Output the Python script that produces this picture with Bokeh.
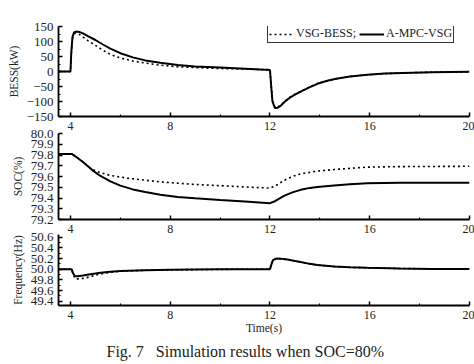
from bokeh.plotting import figure
from bokeh.models import FixedTicker, Legend, LegendItem, Range1d, PrintfTickFormatter
from bokeh.layouts import column
from bokeh.embed import file_html
from bokeh.resources import INLINE

# ---------------- data ----------------
x_ticks = [4, 8, 12, 16, 20]
x_minor = [6, 10, 14, 18]

# BESS power (kW)
bess_t_mpc = [3.52, 4.0, 4.03, 4.08, 4.14, 4.22, 4.35, 4.5, 4.7, 5.0, 5.3, 5.6, 6.0, 6.5, 7.0, 7.6, 8.3, 9.0, 10.0, 11.0, 12.0,
              12.04, 12.1, 12.2, 12.3, 12.45, 12.6, 12.8, 13.0, 13.25, 13.6, 13.9, 14.3, 14.6, 15.2, 15.9, 16.6, 17.3, 18.5, 20.0]
bess_mpc = [0, 0, 60, 115, 130, 133, 132, 127, 118, 105, 90, 76, 61, 47, 37, 29, 22, 17, 13, 9, 5,
            -40, -100, -122, -121, -113, -100, -87, -77, -66, -52, -41, -31, -25, -17, -11, -7, -5, -2.5, -1]
bess_t_vsg = [3.52, 4.0, 4.03, 4.08, 4.14, 4.2, 4.35, 4.5, 4.7, 5.0, 5.3, 5.6, 6.0, 6.5, 7.0, 7.6, 8.3, 9.0, 10.0, 11.0, 12.0,
              12.04, 12.1, 12.2, 12.3, 12.45, 12.6, 12.8, 13.0, 13.25, 13.6, 13.9, 14.3, 14.6, 15.2, 15.9, 16.6, 17.3, 18.5, 20.0]
bess_vsg = [0, 0, 55, 110, 125, 128, 124, 115, 103, 87, 71, 57, 45, 35, 28, 21, 16, 13, 10, 8, 6,
            -40, -98, -120, -119, -111, -99, -86, -76, -65, -51, -40, -31, -25, -17, -11, -7, -5, -2.5, -1]
bess_ticks = [-150, -100, -50, 0, 50, 100, 150]
bess_minor = [-125, -75, -25, 25, 75, 125]
bess_tick_labels = ["\u2212150", "\u2212100", "\u221250", "0", "50", "100", "150"]

# SOC (%)
soc_t_mpc = [3.52, 4.05, 4.15, 4.3, 4.5, 4.7, 4.9, 5.2, 5.6, 6.0, 6.5, 7.0, 7.6, 8.3, 9.0, 10.0, 11.0, 12.0,
             12.2, 12.56, 12.9, 13.23, 13.6, 13.9, 14.57, 15.2, 15.9, 17.2, 18.5, 20.0]
soc_mpc = [79.81, 79.81, 79.795, 79.77, 79.735, 79.695, 79.655, 79.605, 79.555, 79.515, 79.48, 79.455, 79.43, 79.41, 79.397, 79.382, 79.368, 79.352,
           79.37, 79.42, 79.452, 79.476, 79.494, 79.503, 79.516, 79.528, 79.537, 79.543, 79.543, 79.542]
soc_t_vsg = [3.52, 4.05, 4.15, 4.3, 4.5, 4.7, 4.85, 5.2, 5.6, 6.27, 7.6, 8.94, 10.8, 12.0,
             12.2, 12.56, 12.9, 13.23, 13.9, 14.57, 15.9, 17.2, 20.0]
soc_vsg = [79.81, 79.81, 79.795, 79.77, 79.735, 79.695, 79.668, 79.635, 79.61, 79.585, 79.55, 79.527, 79.505, 79.492,
           79.51, 79.563, 79.60, 79.625, 79.65, 79.665, 79.687, 79.692, 79.695]
soc_ticks = [79.2, 79.3, 79.4, 79.5, 79.6, 79.7, 79.8, 79.9, 80.0]

# Frequency (Hz)
freq_t_mpc = [3.52, 4.05, 4.1, 4.18, 4.3, 4.5, 4.8, 5.2, 5.6, 6.0, 7.0, 8.0, 9.0, 10.0, 12.0,
              12.05, 12.12, 12.25, 12.4, 12.7, 13.0, 13.23, 13.6, 13.9, 14.57, 15.2, 15.9, 17.2, 18.5, 20.0]
freq_mpc = [50.0, 50.0, 49.93, 49.866, 49.868, 49.88, 49.905, 49.935, 49.952, 49.965, 49.98, 49.988, 49.993, 49.997, 50.0,
            50.08, 50.17, 50.2, 50.198, 50.18, 50.155, 50.133, 50.1, 50.078, 50.05, 50.035, 50.025, 50.013, 50.006, 50.003]
freq_t_vsg = [3.52, 4.05, 4.1, 4.2, 4.35, 4.55, 4.8, 5.1, 5.5, 6.0, 7.0, 8.0, 9.0, 10.0, 12.0,
              12.05, 12.12, 12.25, 12.4, 12.7, 13.0, 13.23, 13.6, 13.9, 14.57, 15.2, 15.9, 17.2, 18.5, 20.0]
freq_vsg = [50.0, 50.0, 49.9, 49.82, 49.818, 49.83, 49.86, 49.9, 49.935, 49.963, 49.98, 49.988, 49.993, 49.997, 50.0,
            50.08, 50.17, 50.2, 50.198, 50.18, 50.155, 50.133, 50.1, 50.078, 50.05, 50.035, 50.025, 50.013, 50.006, 50.003]
freq_ticks = [49.4, 49.6, 49.8, 50.0, 50.2, 50.4, 50.6]
freq_minor = [49.5, 49.7, 49.9, 50.1, 50.3, 50.5]

series_names = ["VSG-BESS;", "A-MPC-VSG"]
y_labels = ["BESS(kW)", "SOC(%)", "Frequency(Hz)"]
x_label = "Time(s)"
caption = "Fig. 7\u00a0\u00a0\u00a0Simulation results when SOC=80%"

# ---------------- style ----------------
FONT = "Liberation Serif"
TXT = "#222222"
W = 474


def make_fig(height, top, bottom, yr, **kw):
    p = figure(width=W, height=height, output_backend="svg", toolbar_location=None,
               x_range=Range1d(3.52, 20), y_range=yr,
               min_border_left=58, min_border_right=5, min_border_top=top, min_border_bottom=bottom, **kw)
    p.xgrid.visible = False
    p.ygrid.visible = False
    p.outline_line_color = None
    for ax in (p.xaxis[0], p.yaxis[0]):
        ax.axis_line_width = 1.8
        ax.axis_line_color = "black"
        ax.major_tick_in = 4
        ax.major_tick_out = 0
        ax.minor_tick_in = 2
        ax.minor_tick_out = 0
        ax.major_tick_line_width = 1.5
        ax.minor_tick_line_width = 1.2
        ax.major_tick_line_color = "black"
        ax.minor_tick_line_color = "black"
        ax.major_label_text_font = FONT
        ax.major_label_text_color = TXT
        ax.major_label_standoff = 5
        ax.axis_label_text_font = FONT
        ax.axis_label_text_font_style = "normal"
        ax.axis_label_text_color = TXT
        ax.axis_label_text_font_size = "11.5px"
    p.xaxis.ticker = FixedTicker(ticks=x_ticks, minor_ticks=x_minor)
    p.xaxis.major_label_text_font_size = "12px"
    p.yaxis.major_label_text_font_size = "13px"
    p.yaxis.axis_label_standoff = 4
    return p


def draw(p, tv, vv, tm, vm):
    r_s = p.line(tm, vm, line_color="black", line_width=2)
    r_d = p.line(tv, vv, line_color="black", line_width=1.6, line_dash="2 3")
    return r_d, r_s


# panel 1
p1 = make_fig(136, 26, 20, Range1d(-150, 150))
p1.yaxis.ticker = FixedTicker(ticks=bess_ticks, minor_ticks=bess_minor)
p1.yaxis.major_label_overrides = dict(zip(bess_ticks, bess_tick_labels))
p1.yaxis.axis_label = y_labels[0]
rd, rs = draw(p1, bess_t_vsg, bess_vsg, bess_t_mpc, bess_mpc)
leg = Legend(items=[LegendItem(label=series_names[0], renderers=[rd]),
                    LegendItem(label=series_names[1], renderers=[rs])],
             orientation="horizontal", location=(209, 73),
             glyph_width=25, glyph_height=14, label_height=14, label_standoff=2,
             spacing=3, padding=1, margin=0,
             label_text_font=FONT, label_text_font_size="12px", label_text_color=TXT,
             border_line_color="#333333", border_line_width=1.2, border_line_alpha=1.0,
             background_fill_color="white", background_fill_alpha=1.0)
p1.add_layout(leg)

# panel 2
p2 = make_fig(112, 6, 20, Range1d(79.2, 80.0))
p2.yaxis.ticker = FixedTicker(ticks=soc_ticks)
p2.yaxis.formatter = PrintfTickFormatter(format="%.1f")
p2.yaxis.axis_label = y_labels[1]
draw(p2, soc_t_vsg, soc_vsg, soc_t_mpc, soc_mpc)
p2.border_fill_alpha = 0
p2.background_fill_alpha = 0
p2.margin = (-9, 0, 0, 0)

# panel 3
p3 = make_fig(136, 6, 50, Range1d(49.32, 50.65), title=caption, title_location="below")
p3.yaxis.ticker = FixedTicker(ticks=freq_ticks, minor_ticks=freq_minor)
p3.yaxis.formatter = PrintfTickFormatter(format="%.1f")
p3.yaxis.axis_label = y_labels[2]
p3.xaxis.axis_label = x_label
p3.xaxis.axis_label_standoff = 0
p3.title.align = "left"
p3.title.offset = 48
p3.title.standoff = 9
p3.title.text_font = FONT
p3.title.text_font_size = "16px"
p3.title.text_font_style = "normal"
p3.title.text_color = TXT
draw(p3, freq_t_vsg, freq_vsg, freq_t_mpc, freq_mpc)
p3.border_fill_alpha = 0
p3.background_fill_alpha = 0
p3.margin = (-11, 0, 0, 0)

layout = column(p1, p2, p3, spacing=0)
open("out.html", "w").write(file_html(layout, INLINE))
